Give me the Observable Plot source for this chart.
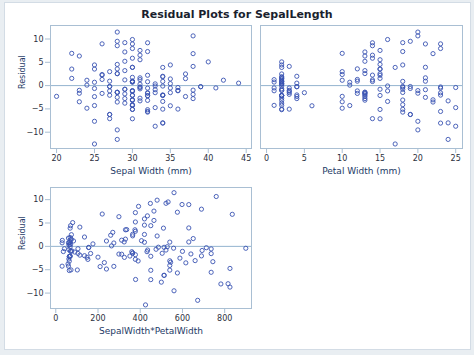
<!DOCTYPE html>
<html>
<head>
<meta charset="utf-8">
<script src="https://cdn.jsdelivr.net/npm/d3@7"></script>
<script src="https://cdn.jsdelivr.net/npm/@observablehq/plot@0.6"></script>
<style>
  html, body { margin: 0; padding: 0; background: #e9eef2; }
  #wrap { position: relative; width: 474px; height: 355px; background: #e9eef2; overflow: hidden; font-family: "DejaVu Sans", sans-serif; }
  #inner { position: absolute; left: 4px; top: 2px; width: 465px; height: 346px; background: #ffffff; border: 1px solid #d3dce5; }
  #title { position: absolute; left: 0; width: 474px; top: 8px; text-align: center; font: bold 11px "DejaVu Sans", sans-serif; color: #1b1f2e; }
  .panel { position: absolute; }
  .panel svg { overflow: visible; }
</style>
</head>
<body>
<div id="wrap">
  <div id="inner"></div>
  <div id="title">Residual Plots for SepalLength</div>
  <div class="panel" id="p1" style="left:0px;top:20px;"></div>
  <div class="panel" id="p2" style="left:258px;top:20px;"></div>
  <div class="panel" id="p3" style="left:0px;top:185px;"></div>
</div>
<script>
const sepalWidth = [
  35,30,32,31,36,39,34,34,29,31,37,34,30,30,40,44,39,35,38,38,34,37,36,33,34,30,34,35,34,32,31,34,41,42,31,32,35,36,30,34,35,23,32,35,38,30,38,32,37,33,
  32,32,31,23,28,28,33,24,29,27,20,30,22,29,29,31,30,27,22,25,32,28,25,28,29,30,28,30,29,26,24,24,27,27,30,34,31,23,30,25,26,30,26,23,27,30,29,29,25,28,
  33,27,30,29,30,30,25,29,25,36,32,27,30,25,28,32,30,38,26,22,32,28,28,27,33,32,28,30,28,30,28,38,28,28,26,30,34,31,30,31,31,31,27,32,33,30,25,30,34,30
];
const petalWidth = [
  2,2,2,2,2,4,3,2,2,1,2,2,1,1,2,4,4,3,3,3,2,4,2,5,2,2,4,2,2,2,2,4,1,2,2,2,2,1,2,2,3,3,2,6,4,3,2,2,2,2,
  14,15,15,13,15,13,16,10,13,14,10,15,10,14,13,14,15,10,15,11,18,13,15,12,13,14,14,17,15,10,11,10,12,16,15,16,15,13,13,13,12,14,12,10,13,12,13,13,11,13,
  25,19,21,18,22,21,17,18,18,25,20,19,21,20,24,23,18,22,23,15,23,20,20,18,21,18,18,18,21,16,19,20,22,15,14,23,24,18,18,21,24,23,19,23,25,23,19,20,23,18
];
const widthProduct = [
  70,60,64,62,72,156,102,68,58,31,74,68,30,30,80,176,156,105,114,114,68,148,72,165,68,60,136,70,68,64,62,136,41,84,62,64,70,36,60,68,105,69,64,210,152,90,76,64,74,66,
  448,480,465,299,420,364,528,240,377,378,200,450,220,406,377,434,450,270,330,275,576,364,375,336,377,420,392,510,435,260,264,240,324,432,450,544,465,299,390,325,312,420,312,230,351,360,377,377,275,364,
  825,513,630,522,660,630,425,522,450,900,640,513,630,500,672,736,540,836,598,330,736,560,560,486,693,576,504,540,588,480,532,760,616,420,364,690,816,558,540,651,744,713,513,736,825,690,475,600,782,540
];
const residual = [
  0.43,0.77,-2.17,-2.70,-1.04,-0.24,-5.05,-0.10,-3.77,1.28,2.50,-2.10,0.76,-4.24,5.09,0.53,-0.24,-0.51,4.12,-1.88,3.90,-2.34,-5.04,-1.52,-2.10,1.77,-2.00,1.43,1.90,-2.17,-0.70,2.00,-0.50,1.16,0.30,0.83,4.43,-1.11,-4.23,0.90,-1.51,-1.02,-5.17,-4.33,-2.79,-1.22,-0.97,-3.17,1.50,0.37,
  9.19,2.22,7.55,-1.65,4.55,-1.43,-0.08,-4.85,7.22,-7.09,-2.31,-2.12,6.92,1.22,-2.78,6.53,-5.12,3.00,3.55,0.72,-5.69,2.58,3.55,3.59,5.22,5.88,8.56,3.90,-0.78,2.38,0.10,1.15,0.95,-1.14,-7.12,-3.40,5.55,6.35,-3.13,-2.36,-1.68,0.88,1.32,-3.47,-2.07,-1.14,-1.78,3.22,-4.28,-1.43,
  -8.72,-6.20,3.94,-0.79,-3.05,8.94,-12.53,9.22,4.43,-0.41,-1.63,-0.20,0.94,-7.66,-11.55,-5.55,0.91,6.86,8.96,1.55,-0.55,-9.51,11.49,-0.18,-0.88,7.31,-1.48,-3.09,-2.52,9.89,9.51,10.67,-3.53,2.55,2.25,7.96,-8.00,-0.39,-4.09,1.67,-3.28,-0.29,-6.20,-1.55,-4.72,-2.04,-0.62,-1.07,-8.05,-5.09
];
const xTicks1 = [20, 25, 30, 35, 40, 45];
const xTicks2 = [0, 5, 10, 15, 20, 25];
const xTicks3 = [0, 200, 400, 600, 800];
const yTicks = [-10, -5, 0, 5, 10];
const xLabels = ["Sepal Width (mm)", "Petal Width (mm)", "SepalWidth*PetalWidth"];
const yLabel = "Residual";

const rows = residual.map((r, i) => ({sw: sepalWidth[i], pw: petalWidth[i], sp: widthProduct[i], res: r}));

const frameColor = "#a9bfd3";
const refColor = "#93b3cf";
const dotColor = "#3a53b2";
const tickText = "#2b3040";
const labelText = "#243a66";

function panel({xField, xDomain, xTicks, xLabel, yDomain, showY, width, height, margins}) {
  const marks = [
    Plot.ruleY([0], {stroke: refColor, strokeWidth: 1}),
    Plot.dot(rows, {x: xField, y: "res", r: 2.1, stroke: dotColor, fill: "none", strokeWidth: 0.9}),
    Plot.frame({stroke: frameColor, strokeWidth: 1}),
    Plot.axisX({ticks: xTicks, tickSize: 5, tickPadding: 2, stroke: frameColor, fill: tickText, fontSize: 8, label: null}),
    Plot.text([xLabel], {text: d => d, frameAnchor: "bottom", dy: 25, fontSize: 9, fill: labelText})
  ];
  if (showY) {
    marks.push(Plot.axisY({ticks: yTicks, tickSize: 5, tickPadding: 2, stroke: frameColor, fill: tickText, fontSize: 8, label: null}));
    marks.push(Plot.text([yLabel], {text: d => d, frameAnchor: "left", dx: -28, dy: 2, rotate: -90, fontSize: 8, fill: labelText}));
  }
  return Plot.plot({
    width, height,
    marginLeft: margins[0], marginRight: margins[1], marginTop: margins[2], marginBottom: margins[3],
    style: {fontFamily: "DejaVu Sans, sans-serif", background: "transparent", overflow: "visible"},
    x: {domain: xDomain},
    y: {domain: yDomain, axis: showY ? undefined : null},
    marks
  });
}

document.getElementById("p1").appendChild(panel({
  xField: "sw", xDomain: [19.2, 45.7], xTicks: xTicks1, xLabel: xLabels[0],
  yDomain: [-13.5, 12.9], showY: true, width: 258, height: 165, margins: [50, 7, 5, 37]
}));
document.getElementById("p2").appendChild(panel({
  xField: "pw", xDomain: [-0.8, 25.9], xTicks: xTicks2, xLabel: xLabels[1],
  yDomain: [-13.5, 12.9], showY: false, width: 216, height: 165, margins: [2, 12, 5, 37]
}));
document.getElementById("p3").appendChild(panel({
  xField: "sp", xDomain: [-25, 927], xTicks: xTicks3, xLabel: xLabels[2],
  yDomain: [-13.3, 12.6], showY: true, width: 258, height: 170, margins: [50, 7, 2, 47]
}));
</script>
</body>
</html>
